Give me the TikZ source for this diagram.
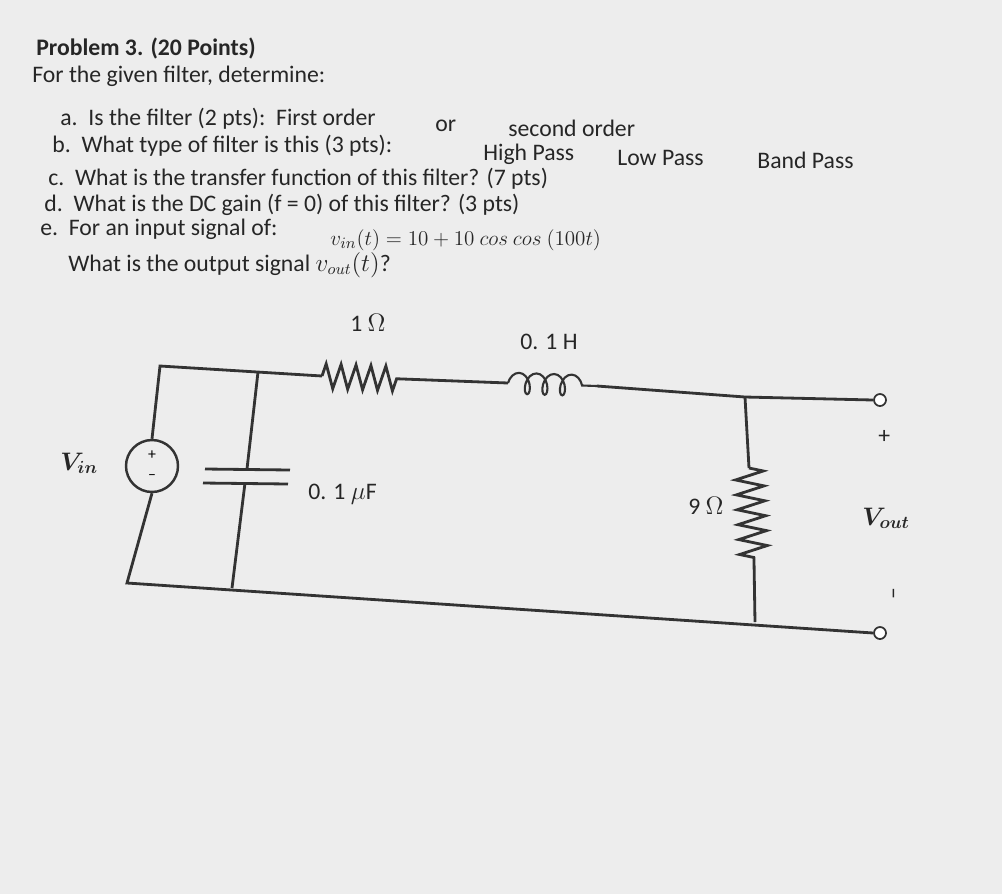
\documentclass[tikz,border=0pt]{standalone}
\usepackage{amsmath,amssymb,bm}
\usepackage{fontspec}
\setmainfont{Carlito}
\usetikzlibrary{decorations.pathmorphing}
\begin{document}
\begin{tikzpicture}[x=0.02cm,y=-0.02cm,
  txt/.style={anchor=base west,inner sep=0pt,font=\fontsize{13.5}{15}\selectfont,text=black!85},
  wire/.style={line width=1.6pt,black!80},
  zz/.style={wire,decorate,decoration={zigzag,segment length=8.5,amplitude=7}},
  coil/.style={wire,line width=1.2pt,decorate,decoration={coil,aspect=0.6,segment length=10,amplitude=6}}]
\fill[black!7] (0,0) rectangle (1002,894);
\useasboundingbox (0,0) rectangle (1002,894);
\node[txt,font=\bfseries\fontsize{13.5}{15}\selectfont] (p) at (36,55) {Problem 3. (20 Points)};
\node[txt] (t0) at (32,82) {For the given filter, determine:};
\node[txt] (ta) at (60,125) {a.\ \ Is the filter (2 pts):\ \ First order};
\node[txt] (tor) at (435,131) {or};
\node[txt] (tso) at (508,136) {second order};
\node[txt] (tb) at (52,152) {b.\ \ What type of filter is this (3 pts):};
\node[txt] (thp) at (483,160) {High Pass};
\node[txt] (tlp) at (617,165) {Low Pass};
\node[txt] (tbp) at (757,168) {Band Pass};
\node[txt] (tc) at (48,185) {c.\ \ What is the transfer function of this filter? (7 pts)};
\node[txt] (td) at (44,211) {d.\ \ What is the DC gain (f = 0) of this filter? (3 pts)};
\node[txt] (te) at (40,235) {e.\ \ For an input signal of:};
\node[txt,font=\fontsize{12.5}{14}\selectfont] (tf) at (330,245) {$v_{in}(t) = 10 + 10\ cos\ cos\ (100t)$};
\node[txt] (tg) at (68,271) {What is the output signal $v_{out}(t)$?};
% circuit
\node[draw=black!80,line width=1.4pt,circle,minimum size=1.04cm,inner sep=0pt] (src) at (152,466) {};
\node[font=\small] (sp) at (152,455) {+};
\node[font=\small] (sm) at (152,477) {--};
\coordinate (tl) at (160,366);
\coordinate (bl) at (127,583);
\coordinate (r1a) at (322,376);
\coordinate (r1b) at (403,379);
\coordinate (l1a) at (508,383);
\coordinate (l1b) at (597,386);
\coordinate (tr) at (745,397);
\coordinate (r9a) at (749,468);
\coordinate (r9b) at (754,560);
\coordinate (br) at (755,622);
\node[draw=black!80,line width=1pt,circle,minimum size=0.24cm,inner sep=0pt,fill=white] (op) at (880,400) {};
\node[draw=black!80,line width=1pt,circle,minimum size=0.24cm,inner sep=0pt,fill=white] (on) at (880,633) {};
\draw[wire] (src.north) -- (tl) -- (r1a);
\draw[zz] (r1a) -- (r1b);
\draw[wire] (r1b) -- (l1a);
\draw[coil] (l1a) -- (l1b);
\draw[wire] (l1b) -- (tr) -- (op.west);
\draw[wire] (tr) -- (r9a);
\draw[zz,decoration={amplitude=8}] (r9a) -- (r9b);
\draw[wire] (r9b) -- (br);
\draw[wire] (src.south) -- (bl) -- (on.west);
% capacitor
\coordinate (ct) at (258,372);
\coordinate (cp1) at (247,469);
\coordinate (cp2) at (245,483);
\coordinate (cb) at (232,588);
\draw[wire] (ct) -- (cp1);
\draw[wire] (cp2) -- (cb);
\draw[wire] (205,469) -- (290,470);
\draw[wire] (203,483) -- (288,484);
\node[txt] (l1) at (350,331) {1 $\Omega$};
\node[txt] (l2) at (520,349) {0. 1 H};
\node[txt] (l3) at (308,499) {0. 1 $\mu$F};
\node[txt] (l4) at (688,514) {9 $\Omega$};
\node[txt,font=\fontsize{14}{15}\selectfont] (vin) at (60,470) {$\bm{V_{in}}$};
\node[txt,font=\fontsize{14}{15}\selectfont] (vout) at (862,525) {$\bm{V_{out}}$};
\node[txt] (pl) at (878,443) {+};
\node[txt,rotate=90] (mi) at (900,600) {--};
\end{tikzpicture}
\end{document}
